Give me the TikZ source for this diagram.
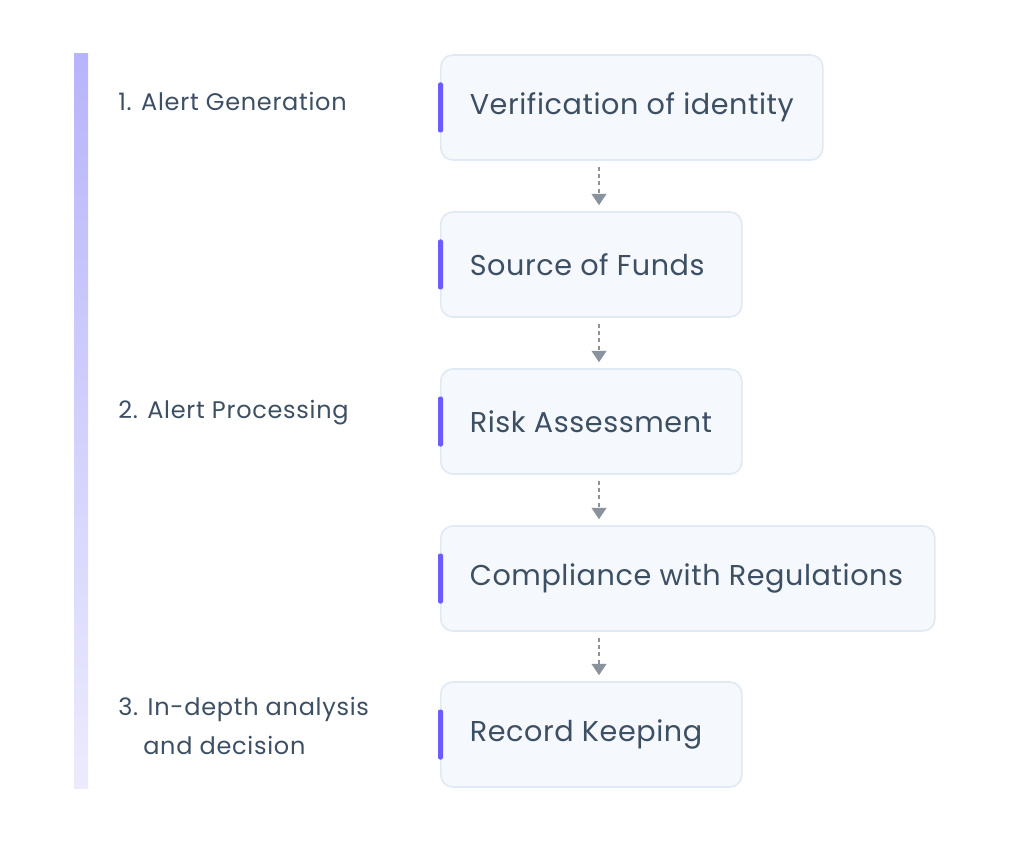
\documentclass[tikz,border=0pt]{standalone}
\usepackage{fontspec}
\setmainfont{Poppins}
\usetikzlibrary{arrows.meta,backgrounds,calc}
\definecolor{txt}{HTML}{3D4F63}
\definecolor{boxfill}{HTML}{F5F8FC}
\definecolor{boxline}{HTML}{E1E9F5}
\definecolor{accent}{HTML}{6A5CFF}
\definecolor{arrowc}{HTML}{8A939D}
\definecolor{barTop}{HTML}{B8B4FB}
\definecolor{barBot}{HTML}{ECEBFD}
\tikzset{
  stepbox/.style={draw=boxline, line width=1.2pt, fill=boxfill, rounded corners=9pt,
    anchor=west, minimum height=78.75pt, inner xsep=21.75pt,
    font=\fontsize{21.5pt}{25pt}\selectfont\addfontfeature{LetterSpace=2}, text=txt},
  phase/.style={anchor=base west, font=\fontsize{18pt}{22pt}\selectfont\addfontfeature{LetterSpace=3}, text=txt, inner sep=0pt},
  conn/.style={draw=arrowc, line width=1.5pt, dash pattern=on 3pt off 2.5pt,
    -{Triangle[length=8.5pt,width=11pt]}},
}
\newcommand{\shadowof}[1]{%
  \foreach \i in {1,...,10} {
    \fill[black, opacity=0.009, rounded corners=12pt]
      ($(#1.south west)+(4-\i*1.6,-\i*1.2-6)$) rectangle ($(#1.north east)+(-4+\i*1.6,\i*2.2+6)$);
  }}
\begin{document}
\begin{tikzpicture}[x=0.75pt,y=-0.75pt]
\useasboundingbox (0,0) rectangle (1024,855);
\fill[white] (0,0) rectangle (1024,855);
\shade[top color=barTop,bottom color=barBot] (74,54) rectangle (88,788);

\node[stepbox] (n1) at (440,107.5) {\makebox[243pt][l]{Verification of identity}};
\node[stepbox] (n2) at (440,264.5) {\makebox[182.25pt][l]{Source of Funds}};
\node[stepbox] (n3) at (440,421.5) {\makebox[182.25pt][l]{Risk Assessment}};
\node[stepbox] (n4) at (440,578.5) {\makebox[327pt][l]{Compliance with Regulations}};
\node[stepbox] (n5) at (440,734.5) {\makebox[182.25pt][l]{Record Keeping}};

\begin{scope}[on background layer]
  \foreach \n in {n1,n2,n3,n4,n5} { \shadowof{\n} }
\end{scope}

\foreach \n in {n1,n2,n3,n4,n5} {
  \fill[accent, rounded corners=1.5pt] ($(\n.west)+(-2,-25)$) rectangle ($(\n.west)+(3,25)$);
}

\coordinate (ax) at (599,0);
\foreach \a/\b in {n1/n2,n2/n3,n3/n4,n4/n5} {
  \draw[conn] ([yshift=-4.5pt]\a.south -| ax) -- ([yshift=4.5pt]\b.north -| ax);
}

\node[phase] (p1) at (118,111) {1. Alert Generation};
\node[phase] (p2) at (118,418) {2. Alert Processing};
\node[phase] (p3a) at (118,715) {3. In-depth analysis};
\node[phase] (p3b) at (143,754) {and decision};
\end{tikzpicture}
\end{document}
